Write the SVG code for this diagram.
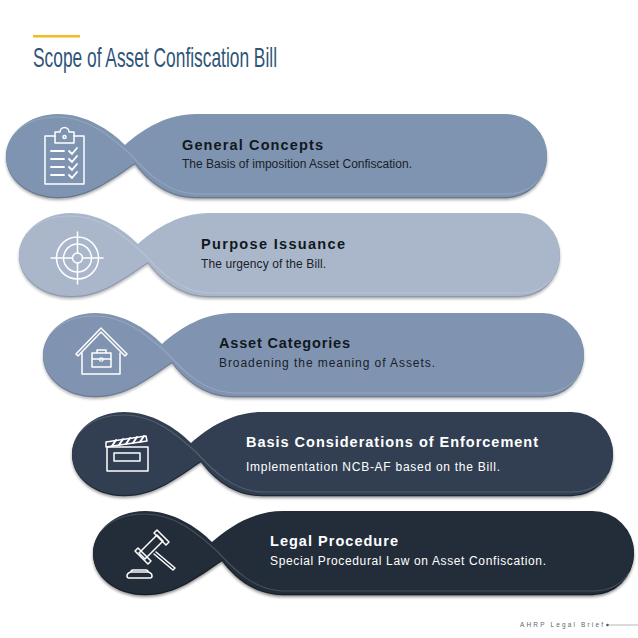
<svg xmlns="http://www.w3.org/2000/svg" width="638" height="638" viewBox="0 0 638 638">
<style>
text{font-family:"Liberation Sans",Arial,sans-serif}
.h{font-size:14.5px;font-weight:700;fill:#111820}
.s{font-size:12px;fill:#1a2028}
.hw{font-size:14.5px;font-weight:700;fill:#fff}
.sw{font-size:12px;fill:#fff}
.i{fill:none;stroke:#fff;stroke-width:1.5;stroke-linejoin:round;stroke-linecap:round}
.rib{fill:none;stroke:#fff;stroke-opacity:.16;stroke-width:1.2}
</style>
<defs>
<path id="shape" d="M-5,-11C-20,-26-44,-42-72,-42C-102,-42-124,-22-124,0C-124,22-102,41-72,41C-40,41-18,22 5,7C14,19 34,41 66,41L375,41A41.500,41.500 0 0 0 417,0A41.500,41.500 0 0 0 375,-42L66,-42C38,-42 14,-28-5,-11Z"/>
<path id="rib" d="M-116,-22C-104,-36-88,-39-72,-39C-42,-39-20,-20 0,-2C18,18 38,37 66,38L375,38C392,38 404,32 412,20"/>
<filter id="sh" x="-5%" y="-10%" width="110%" height="130%"><feGaussianBlur stdDeviation="1.800"/></filter>
</defs>
<rect width="638" height="638" fill="#fff"/>
<rect x="33" y="35" width="47" height="2.500" fill="#f5b921"/>
<text x="33" y="67" font-size="28" textLength="244" lengthAdjust="spacingAndGlyphs" style="font-family:'Liberation Sans Narrow','Liberation Sans',sans-serif" fill="#2f5578">Scope of Asset Confiscation Bill</text>
<g id="connectors"/>
<g id="n1" transform="translate(130,156)">
<use href="#shape" y="3" fill="#000" opacity=".35" filter="url(#sh)"/>
<use href="#shape" y="1.200" fill="#66778f"/>
<use href="#shape" fill="#7f94b0"/>
<use href="#rib" class="rib"/>
<g class="i" transform="translate(-130,-156)">
<path d="M55,136H45V184H84V136H74"/><path d="M55,132H60A4.500,4.500 0 0 1 69,132H74V143H55Z"/><circle cx="64.500" cy="137" r="1.500"/>
<path d="M51,151H64M51,159H64M51,167H64M51,175H64" stroke-width="1.800"/>
<path d="M69,151L72,154L77,148M69,159L72,162L77,156M69,167L72,170L77,164M69,175L72,178L77,172" stroke-width="1.800"/>
</g>
<text x="52" y="-6.500" class="h" textLength="141">General Concepts</text>
<text x="52" y="12" class="s" textLength="230">The Basis of imposition Asset Confiscation.</text>
</g>
<g id="n2" transform="translate(143,255)">
<use href="#shape" y="3" fill="#000" opacity=".3" filter="url(#sh)"/>
<use href="#shape" y="1.200" fill="#8c9ab0"/>
<use href="#shape" fill="#aab7cb"/>
<use href="#rib" class="rib"/>
<g class="i" transform="translate(-143,-255)">
<circle cx="77.500" cy="258" r="21"/><circle cx="77.500" cy="258" r="14"/><circle cx="77.500" cy="258" r="5"/>
<path d="M77.500,232V253M77.500,263V284M51,258H72.500M82.500,258H103"/>
</g>
<text x="58" y="-6" class="h" textLength="144">Purpose Issuance</text>
<text x="58" y="13" class="s" textLength="125">The urgency of the Bill.</text>
</g>
<g id="n3" transform="translate(167,355)">
<use href="#shape" y="3" fill="#000" opacity=".3" filter="url(#sh)"/>
<use href="#shape" y="1.200" fill="#697a93"/>
<use href="#shape" fill="#8094b1"/>
<use href="#rib" class="rib"/>
<g class="i" transform="translate(-167,-355)">
<path d="M82,353V374H120V353"/>
<path d="M76,354L101,328L127,354L125,356L101,332L78,356Z"/>
<path d="M92,353H111V367H92ZM92,359H111M97,353V350H106V353"/><path d="M100,358H103V361H100Z" stroke-width="1"/>
</g>
<text x="52" y="-7" class="h" textLength="131">Asset Categories</text>
<text x="52" y="12" class="s" textLength="216">Broadening the meaning of Assets.</text>
</g>
<g id="n4" transform="translate(196,454)">
<use href="#shape" y="3" fill="#000" opacity=".4" filter="url(#sh)"/>
<use href="#shape" y="1.200" fill="#1d2735"/>
<use href="#shape" fill="#323f52"/>
<use href="#rib" class="rib"/>
<g class="i" transform="translate(-196,-454)">
<path d="M107,447H148V471H107Z"/><path d="M114,453H140V461H114Z"/>
<path d="M106,442L146,436L147,441L106,447Z"/>
<path d="M112,446L116,440M119,445L123,439M126,444L130,438M133,443L137,437M140,442L144,436" stroke-width="2"/>
</g>
<text x="50" y="-7" class="hw" textLength="292">Basis Considerations of Enforcement</text>
<text x="50" y="16.500" class="sw" textLength="254">Implementation NCB-AF based on the Bill.</text>
</g>
<g id="n5" transform="translate(217,553)">
<use href="#shape" y="3" fill="#000" opacity=".45" filter="url(#sh)"/>
<use href="#shape" y="1.200" fill="#151c25"/>
<use href="#shape" fill="#232d3a"/>
<use href="#rib" class="rib"/>
<g class="i" transform="translate(-217,-553)">
<path d="M139,553L157,535L163,541L145,559Z"/><path d="M135,551L138,548L151,561L148,564Z"/><path d="M154,533L157,530L169,542L166,545Z"/>
<path d="M156,552L175,568L173,570L154,554"/>
<path d="M131,572Q131,570 133,570H146Q148,570 148,572M129,578Q127,578 127,576Q127,573 131,572H148Q152,573 152,576Q152,578 150,578Z"/>
</g>
<text x="53" y="-7" class="hw" textLength="128">Legal Procedure</text>
<text x="53" y="12" class="sw" textLength="276">Special Procedural Law on Asset Confiscation.</text>
</g>
<text x="520" y="627" font-size="6.500" fill="#666" textLength="83">AHRP Legal Brief</text>
<circle cx="607.500" cy="625" r="1.300" fill="#555"/>
<path d="M608,625H638" stroke="#999" stroke-width=".7" fill="none"/>
</svg>
